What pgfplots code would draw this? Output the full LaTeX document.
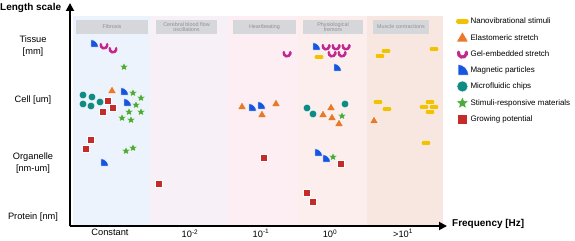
\documentclass[border=0pt]{standalone}
\usepackage{pgfplots}
\pgfplotsset{compat=1.18}
\usetikzlibrary{arrows.meta}
\usepackage{fontspec}
\setmainfont{Liberation Sans}

\definecolor{cYel}{HTML}{F2C200}
\definecolor{cOra}{HTML}{E8782A}
\definecolor{cMag}{HTML}{C2298E}
\definecolor{cBlu}{HTML}{1655E0}
\definecolor{cTea}{HTML}{0F8B84}
\definecolor{cGre}{HTML}{4DAA3A}
\definecolor{cRed}{HTML}{C42B2B}
\definecolor{bgA}{HTML}{EDF3FC}
\definecolor{bgB}{HTML}{F8F0F7}
\definecolor{bgC}{HTML}{FCEEF3}
\definecolor{bgD}{HTML}{FCEEEC}
\definecolor{bgE}{HTML}{F8E6E0}
\definecolor{hdr}{HTML}{D5D7DA}
\definecolor{hdrtxt}{HTML}{909090}

\pgfdeclareplotmark{nanobar}{%
  \pgfscope
  \pgfsetroundcap
  \pgfsetlinewidth{1.05*\pgfplotmarksize+1pt}%
  \pgfsetstrokecolor{white}%
  \pgfpathmoveto{\pgfpoint{-\pgfplotmarksize}{0pt}}%
  \pgfpathlineto{\pgfpoint{\pgfplotmarksize}{0pt}}%
  \pgfusepathqstroke
  \pgfsetlinewidth{1.05*\pgfplotmarksize}%
  \pgfsetstrokecolor{cYel}%
  \pgfpathmoveto{\pgfpoint{-\pgfplotmarksize}{0pt}}%
  \pgfpathlineto{\pgfpoint{\pgfplotmarksize}{0pt}}%
  \pgfusepathqstroke
  \endpgfscope
}
\pgfdeclareplotmark{gelarc}{%
  \pgfscope
  \pgfsetroundcap
  \pgfsetlinewidth{0.8*\pgfplotmarksize+1pt}%
  \pgfsetstrokecolor{white}%
  \pgfpathmoveto{\pgfpointadd{\pgfpoint{0pt}{0.3\pgfplotmarksize}}{\pgfpointpolar{165}{\pgfplotmarksize}}}%
  \pgfpatharc{165}{375}{\pgfplotmarksize}%
  \pgfusepathqstroke
  \pgfsetlinewidth{0.8*\pgfplotmarksize}%
  \pgfsetstrokecolor{cMag}%
  \pgfpathmoveto{\pgfpointadd{\pgfpoint{0pt}{0.3\pgfplotmarksize}}{\pgfpointpolar{165}{\pgfplotmarksize}}}%
  \pgfpatharc{165}{375}{\pgfplotmarksize}%
  \pgfusepathqstroke
  \endpgfscope
}
\pgfdeclareplotmark{quarter}{%
  \pgfpathmoveto{\pgfpoint{-0.42\pgfplotmarksize}{-0.42\pgfplotmarksize}}%
  \pgfpathlineto{\pgfpoint{0.58\pgfplotmarksize}{-0.42\pgfplotmarksize}}%
  \pgfpatharc{0}{90}{\pgfplotmarksize}%
  \pgfpathclose
  \pgfusepathqfillstroke
}
\pgfdeclareplotmark{fstar}{%
  \pgfpathmoveto{\pgfpointpolar{90}{\pgfplotmarksize}}%
  \pgfpathlineto{\pgfpointpolar{126}{0.45\pgfplotmarksize}}%
  \pgfpathlineto{\pgfpointpolar{162}{\pgfplotmarksize}}%
  \pgfpathlineto{\pgfpointpolar{198}{0.45\pgfplotmarksize}}%
  \pgfpathlineto{\pgfpointpolar{234}{\pgfplotmarksize}}%
  \pgfpathlineto{\pgfpointpolar{270}{0.45\pgfplotmarksize}}%
  \pgfpathlineto{\pgfpointpolar{306}{\pgfplotmarksize}}%
  \pgfpathlineto{\pgfpointpolar{342}{0.45\pgfplotmarksize}}%
  \pgfpathlineto{\pgfpointpolar{18}{\pgfplotmarksize}}%
  \pgfpathlineto{\pgfpointpolar{54}{0.45\pgfplotmarksize}}%
  \pgfpathclose
  \pgfusepathqfillstroke
}

\begin{document}
\begin{tikzpicture}[x=1bp,y=1bp]
\path[use as bounding box] (0,0) rectangle (575,240);
\begin{axis}[
  at={(70bp,14bp)}, anchor=south west,
  scale only axis, width=377bp, height=223bp,
  xmin=70, xmax=447, ymin=14, ymax=237,
  axis x line=bottom, axis y line=left,
  axis line style={line width=1.8pt, -{Triangle[length=8bp,width=8bp]}},
  axis on top, clip=false,
  major tick length=0pt, tick style={draw=none},
  xtick={110,190,261,330,403},
  xticklabels={{Constant},{10\textsuperscript{-2}},{10\textsuperscript{-1}},{10\textsuperscript{0}},{>10\textsuperscript{1}}},
  xticklabel style={font=\fontsize{9.3}{10}\selectfont},
  ytick={23,77,140,194},
  yticklabels={{Protein [nm]},{Organelle\\{[nm-um]}},{Cell [um]},{Tissue\\{[mm]}}},
  yticklabel style={font=\fontsize{9.3}{11.5}\selectfont, align=center, anchor=center, xshift=-37bp},
  legend style={at={(1.024,0.944)}, anchor=north west, draw=none, fill=none,
    font=\fontsize{8}{9.6}\selectfont, row sep=4.6pt, inner sep=0pt},
  legend cell align=left,
]
% panels
\fill[bgA] (axis cs:73,15) rectangle (axis cs:150,224);
\fill[bgB] (axis cs:150,15) rectangle (axis cs:228,224);
\fill[bgC] (axis cs:228,15) rectangle (axis cs:298,224);
\fill[bgD] (axis cs:298,15) rectangle (axis cs:367,224);
\fill[bgE] (axis cs:367,15) rectangle (axis cs:443,224);
% headers
\fill[hdr] (axis cs:76,206) rectangle (axis cs:148,220);
\fill[hdr] (axis cs:156,206) rectangle (axis cs:217,220);
\fill[hdr] (axis cs:233,206) rectangle (axis cs:296,220);
\fill[hdr] (axis cs:303,206) rectangle (axis cs:363,220);
\fill[hdr] (axis cs:373,206) rectangle (axis cs:429,220);
\begin{scope}[every node/.style={text=hdrtxt, font=\fontsize{5.4}{5.8}\selectfont, align=center, inner sep=0pt}]
\node at (axis cs:112,213) {Fibrosis};
\node at (axis cs:186.5,213) {Cerebral blood flow\\oscillations};
\node at (axis cs:264.5,213) {Heartbeating};
\node at (axis cs:333,213) {Physiological\\tremors};
\node at (axis cs:401,213) {Muscle contractions};
\end{scope}

% Nanovibrational stimuli
\addplot[only marks, mark=nanobar, mark size=3pt, legend image post style={mark size=4.2pt}] coordinates {
(319,183) (386,189) (380,184) (434,191) (378,138) (387,131) (430,138) (424,133) (434,133) (430,128) (426,97)};
\addlegendentry{Nanovibrational stimuli}
% Elastomeric stretch
\addplot[only marks, mark=triangle*, mark size=5.2pt, mark options={fill=cOra, draw=white, line width=0.5pt}, legend image post style={mark size=7pt}] coordinates {
(112,149) (242,133) (262,125) (276,136) (323,125) (331,132) (332,122) (339,116) (374,119)};
\addlegendentry{Elastomeric stretch}
% Gel-embedded stretch
\addplot[only marks, mark=gelarc, mark size=3.3pt, legend image post style={mark size=4pt}] coordinates {
(104,194) (113,190) (287,186) (326,193) (336,193) (346,193) (332,186) (342,186)};
\addlegendentry{Gel-embedded stretch}
% Magnetic particles
\addplot[only marks, mark=quarter, mark size=7.5pt, mark options={fill=cBlu, draw=white, line width=0.5pt}, legend image post style={mark size=10.5pt}] coordinates {
(94,196) (124,148) (127,137) (104,77) (252,132) (261,134) (316,193) (337,172) (318,87) (326,81)};
\addlegendentry{Magnetic particles}
% Microfluidic chips
\addplot[only marks, mark=*, mark size=3.9pt, mark options={fill=cTea, draw=white, line width=0.5pt}, legend image post style={mark size=5.6pt}] coordinates {
(83,145) (92,143) (83,136) (91,134) (100,138) (307,132) (313,126) (345,136)};
\addlegendentry{Microfluidic chips}
% Stimuli-responsive materials
\addplot[only marks, mark=fstar, mark size=4.6pt, mark options={fill=cGre, draw=white, line width=0.4pt}, legend image post style={mark size=6.5pt}] coordinates {
(124,173) (133,147) (141,142) (136,135) (141,128) (129,128) (122,122) (131,120) (126,89) (133,92) (342,124) (333,83)};
\addlegendentry{Stimuli-responsive materials}
% Growing potential
\addplot[only marks, mark=square*, mark size=3.7pt, mark options={fill=cRed, draw=white, line width=0.5pt}, legend image post style={mark size=5pt}] coordinates {
(108,139) (113,132) (103,128) (91,100) (86,91) (159,56) (264,82) (341,76) (307,47) (313,38)};
\addlegendentry{Growing potential}
\end{axis}
\node[anchor=west, inner sep=0pt, font=\bfseries\fontsize{10}{11}\selectfont] at (0,232) {Length scale};
\node[anchor=west, inner sep=0pt, font=\bfseries\fontsize{10}{11}\selectfont] at (452,16) {Frequency [Hz]};
\end{tikzpicture}
\end{document}
